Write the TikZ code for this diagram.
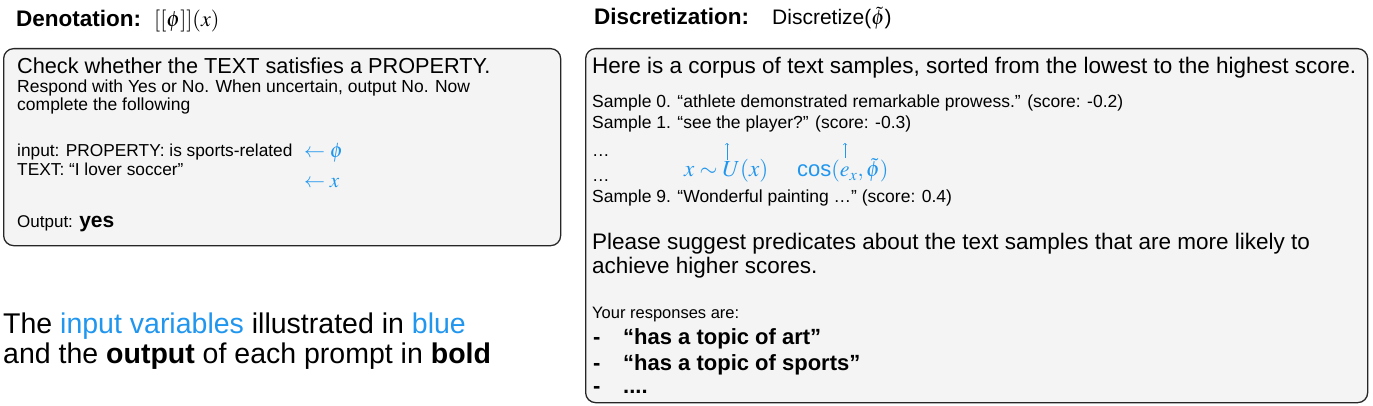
\documentclass[tikz,border=0pt]{standalone}
\usepackage{mathptmx}
\usepackage{fontspec}
\setmainfont{Liberation Sans}
\usetikzlibrary{positioning}

\definecolor{varblue}{RGB}{33,150,238}
\definecolor{boxfill}{RGB}{244,244,244}
\newcommand{\fs}[1]{\fontsize{#1}{#1}\selectfont}

\begin{document}
\begin{tikzpicture}[x=1pt, y=-1pt, t/.style={anchor=base west, inner sep=0pt}, box/.style={draw=black!85, fill=boxfill, rounded corners=10pt, line width=1.3pt, anchor=north west}, b/.style={text=varblue}, up/.style={->, draw=varblue, line width=.6pt}]
	\useasboundingbox (0,0) rectangle (1373,406);

	% denotation prompt
	\node[t, font=\fs{22.5}\bfseries] (D) at (16,27) {Denotation:};
	\node[t, font=\fs{22}] (D_math) at (154,27) {$[[\phi]](x)$};
	\node[box, minimum width=557pt, minimum height=197pt] (P) at (3,48) {};
	\node[t, font=\fs{21.7}] (L1) at (17,74) {Check whether the TEXT satisfies a PROPERTY.};
	\node[t, font=\fs{17.5}] (L2) at (17,93) {Respond with Yes or No. When uncertain, output No. Now};
	\node[t, font=\fs{17.5}] (L3) at (17,111) {complete the following};
	\node[t, font=\fs{17.3}] (L4) at (17,157) {input: PROPERTY: is sports-related};
	\node[t, font=\fs{17.3}] (L5) at (17,176) {TEXT: “I lover soccer”};
	\node[t, font=\fs{17}] (L6) at (17,227) {Output: {\fs{21}\bfseries yes}};
	\node[t, b, font=\fs{21}] (phi) at (304,158) {$\leftarrow\phi$};
	\node[t, b, font=\fs{21}] (xin) at (304,188) {$\leftarrow x$};

	% caption
	\node[t, font=\fs{28.5}] (cap1) at (3,333) {The \textcolor{varblue}{input variables} illustrated in \textcolor{varblue}{blue}};
	\node[t, font=\fs{28.5}] (cap2) at (3,363) {and the \textbf{output} of each prompt in \textbf{bold}};

	% discretization prompt
	\node[t, font=\fs{22.5}\bfseries] (R) at (594,25) {Discretization:};
	\node[t, font=\fs{21}] (R_math) at (772,25) {Discretize($\tilde{\phi}$)};
	\node[box, minimum width=782pt, minimum height=354pt] (Q) at (585,48) {};
	\node[t, font=\fs{22.5}] (H1) at (592,74) {Here is a corpus of text samples, sorted from the lowest to the highest score.};
	\node[t, font=\fs{17.5}] (S0) at (592,108) {Sample 0. “athlete demonstrated remarkable prowess.” (score: -0.2)};
	\node[t, font=\fs{17.5}] (S1) at (592,129) {Sample 1. “see the player?” (score: -0.3)};
	\node[t, font=\fs{17.5}] (S2) at (592,157) {…};
	\node[t, font=\fs{17.5}] (S3) at (592,182) {…};
	\node[t, font=\fs{17.5}] (S9) at (592,203) {Sample 9. “Wonderful painting …” (score: 0.4)};
	\node[t, b, font=\fs{23}] (xU) at (684,177) {$x\sim U(x)$};
	\node[t, b, font=\fs{22}] (cosx) at (797,177) {cos$(e_x,\tilde{\phi})$};
	\coordinate (u_tip) at (727,143);
	\coordinate (c_tip) at (845,143);
	\draw[up] (xU.north -| u_tip) -- (u_tip);
	\draw[up] (cosx.north -| c_tip) -- (c_tip);
	\node[t, font=\fs{22.5}] (H2) at (592,249) {Please suggest predicates about the text samples that are more likely to};
	\node[t, font=\fs{22.5}] (H3) at (592,273) {achieve higher scores.};
	\node[t, font=\fs{16.5}] (Y) at (592,318) {Your responses are:};
	\foreach \y/\txt [count=\i] in {344/{“has a topic of art”}, 370/{“has a topic of sports”}, 393/{{....}}} {
		\node[t, font=\fs{22}\bfseries] (dash\i) at (593,\y) {-};
		\node[t, font=\fs{22}\bfseries] (resp\i) at (623,\y) {\txt};
	}
\end{tikzpicture}
\end{document}
